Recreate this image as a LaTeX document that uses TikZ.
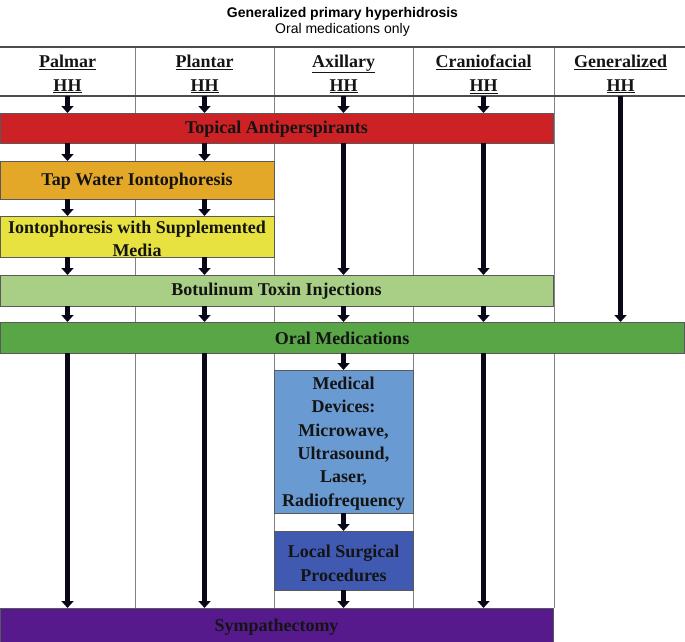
\documentclass[tikz,border=0pt]{standalone}
\usepackage{fontspec}
\setmainfont{Liberation Serif}
\newfontfamily\titlefont{Liberation Sans}
\usetikzlibrary{arrows.meta}
\definecolor{cRed}{RGB}{204,33,37}
\definecolor{cTap}{RGB}{228,168,40}
\definecolor{cYel}{RGB}{232,226,64}
\definecolor{cBot}{RGB}{169,207,134}
\definecolor{cOral}{RGB}{88,166,70}
\definecolor{cMed}{RGB}{106,154,210}
\definecolor{cLoc}{RGB}{64,90,178}
\definecolor{cSym}{RGB}{86,26,140}
\definecolor{arrowc}{RGB}{8,8,24}
\definecolor{gridc}{RGB}{130,130,130}
\tikzset{
  bar/.style={rectangle, draw=gray!70!black, line width=0.8pt, inner sep=0pt, outer sep=0pt},
  lbl/.style={font=\fontsize{18}{23.3}\selectfont\bfseries, align=center, inner sep=0pt, text=black!92},
  arr/.style={line width=4.5pt, draw=arrowc, -{Triangle[width=12pt,length=7pt]}},
  gridline/.style={draw=gridc, line width=1pt},
  rule/.style={draw=gray!60!black, line width=1.4pt},
  cell/.style={rectangle, inner sep=0pt, outer sep=0pt, minimum height=49pt}
}
\begin{document}
\begin{tikzpicture}[x=1pt,y=-1pt]
\useasboundingbox (0,0) rectangle (685,642);
% titles
\node[font=\titlefont\bfseries\fontsize{14}{16}\selectfont, inner sep=0pt] (title) at (342.5,14) {Generalized primary hyperhidrosis};
\node[font=\titlefont\fontsize{14}{16}\selectfont, inner sep=0pt] (subtitle) at (342.5,29.5) {Oral medications only};
% grid
\foreach \gx in {135,274,413,554} \draw[gridline] (\gx,47) -- (\gx,608);
\draw[rule] (0,47) -- (685,47);
\draw[rule] (0,96) -- (685,96);
% header cells
\node[cell, minimum width=135pt] (h1) at (67.5,71.5) {};
\node[cell, minimum width=139pt] (h2) at (204.5,71.5) {};
\node[cell, minimum width=139pt] (h3) at (343.5,71.5) {};
\node[cell, minimum width=141pt] (h4) at (483.5,71.5) {};
\node[cell, minimum width=131pt] (h5) at (620.5,71.5) {};
\node[lbl, font=\fontsize{18}{24}\selectfont\bfseries] (t1) at ([yshift=-2.5pt]h1.center) {\underline{Palmar}\\\underline{HH}};
\node[lbl, font=\fontsize{18}{24}\selectfont\bfseries] (t2) at ([yshift=-2.5pt]h2.center) {\underline{Plantar}\\\underline{HH}};
\node[lbl, font=\fontsize{18}{24}\selectfont\bfseries] (t3) at ([yshift=-2.5pt]h3.center) {\underline{Axillary}\\\underline{HH}};
\node[lbl, font=\fontsize{18}{24}\selectfont\bfseries] (t4) at ([yshift=-2.5pt]h4.center) {\underline{Craniofacial}\\\underline{HH}};
\node[lbl, font=\fontsize{18}{24}\selectfont\bfseries] (t5) at ([yshift=-2.5pt]h5.center) {\underline{Generalized}\\\underline{HH}};
% bars
\node[bar, fill=cRed, minimum width=553pt, minimum height=30pt] (red) at (276.5,128) {};
\node[bar, fill=cTap, minimum width=274pt, minimum height=38pt] (tap) at (137,180) {};
\node[bar, fill=cYel, minimum width=274pt, minimum height=41pt] (supp) at (137,236.5) {};
\node[bar, fill=cBot, minimum width=553pt, minimum height=31pt] (botu) at (276.5,290.5) {};
\node[bar, fill=cOral, minimum width=684pt, minimum height=31pt] (oral) at (342,337.5) {};
\node[bar, fill=cMed, minimum width=139pt, minimum height=143pt] (med) at (343.5,441.5) {};
\node[bar, fill=cLoc, minimum width=139pt, minimum height=59pt] (loc) at (343.5,560.5) {};
\node[bar, fill=cSym, minimum width=553pt, minimum height=36pt] (symp) at (276.5,626) {};
% labels
\node[lbl] (lred) at ([yshift=-1pt]red.center) {Topical Antiperspirants};
\node[lbl] (ltap) at ([yshift=-1pt]tap.center) {Tap Water Iontophoresis};
\node[lbl] (lsupp) at ([yshift=-2pt]supp.center) {Iontophoresis with Supplemented\\Media};
\node[lbl] (lbotu) at ([yshift=-1pt]botu.center) {Botulinum Toxin Injections};
\node[lbl] (loral) at ([yshift=-1pt]oral.center) {Oral Medications};
\node[lbl] (lmed) at ([yshift=-2pt]med.center) {Medical\\Devices:\\Microwave,\\Ultrasound,\\Laser,\\Radiofrequency};
\node[lbl] (lloc) at ([yshift=-3pt]loc.center) {Local Surgical\\Procedures};
\node[lbl] (lsymp) at ([yshift=-1pt]symp.center) {Sympathectomy};
% arrows: Palmar and Plantar
\foreach \h in {h1,h2} {
  \draw[arr] (\h.south) -- (\h.south |- red.north);
  \draw[arr] (\h.south |- red.south) -- (\h.south |- tap.north);
  \draw[arr] (\h.south |- tap.south) -- (\h.south |- supp.north);
  \draw[arr] (\h.south |- supp.south) -- (\h.south |- botu.north);
  \draw[arr] (\h.south |- botu.south) -- (\h.south |- oral.north);
  \draw[arr] (\h.south |- oral.south) -- (\h.south |- symp.north);
}
% Axillary
\draw[arr] (h3.south) -- (h3.south |- red.north);
\draw[arr] (h3.south |- red.south) -- (h3.south |- botu.north);
\draw[arr] (h3.south |- botu.south) -- (h3.south |- oral.north);
\draw[arr] (h3.south |- oral.south) -- (med.north);
\draw[arr] (med.south) -- (loc.north);
\draw[arr] (loc.south) -- (loc.south |- symp.north);
% Craniofacial
\draw[arr] (h4.south) -- (h4.south |- red.north);
\draw[arr] (h4.south |- red.south) -- (h4.south |- botu.north);
\draw[arr] (h4.south |- botu.south) -- (h4.south |- oral.north);
\draw[arr] (h4.south |- oral.south) -- (h4.south |- symp.north);
% Generalized
\draw[arr] (h5.south) -- (h5.south |- oral.north);
\end{tikzpicture}
\end{document}
